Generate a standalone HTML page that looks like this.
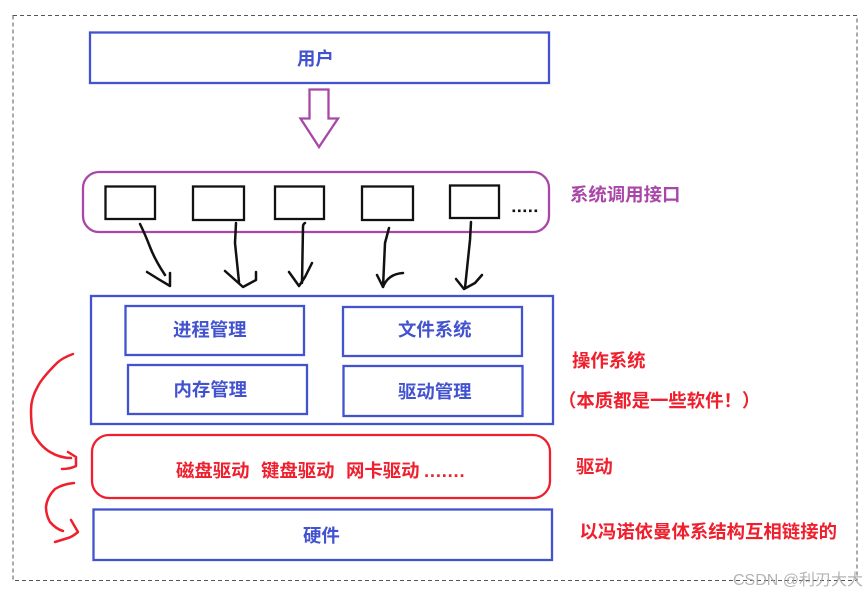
<!DOCTYPE html>
<html><head><meta charset="utf-8">
<style>
html,body{margin:0;padding:0;background:#fff;width:867px;height:594px;overflow:hidden}
svg{display:block;filter:blur(.35px)}
text{font-family:"Liberation Sans","Noto Sans CJK SC",sans-serif;font-weight:700;font-size:18.4px}
.b{fill:#4353cf}.r{fill:#f01f2d}.p{fill:#a847a8}
</style></head><body>
<svg width="867" height="594" viewBox="0 0 867 594" xmlns="http://www.w3.org/2000/svg">
<rect width="867" height="594" fill="#fff"/>
<rect x="13" y="15.5" width="844" height="565" fill="none" stroke="#555" stroke-width="1" stroke-dasharray="4 3"/>

<g fill="none" stroke="#4353cf" stroke-width="2.3">
<rect x="90" y="32.5" width="459" height="50.5"/>
<rect x="91" y="296" width="462" height="128"/>
<rect x="125.5" y="306" width="178.5" height="49"/>
<rect x="343" y="307" width="179" height="49"/>
<rect x="128" y="365" width="179" height="49"/>
<rect x="343.5" y="366" width="179" height="50"/>
<rect x="93.5" y="509.5" width="458.5" height="50.5"/>
</g>
<path d="M309.5 89.5H328.5V118.5H338L319 147L300.5 118.5H309.5Z" fill="none" stroke="#a847a8" stroke-width="2.3"/>
<rect x="83" y="172" width="466" height="60" rx="16" fill="none" stroke="#a847a8" stroke-width="2.3"/>
<rect x="92" y="435" width="458" height="63" rx="17" fill="none" stroke="#f01f2d" stroke-width="2.3"/>

<g fill="none" stroke="#111" stroke-width="2.3">
<rect x="105.500" y="186.500" width="49.500" height="32.500"/>
<rect x="193" y="186.500" width="51" height="33.500"/>
<rect x="275" y="186.500" width="49" height="32.500"/>
<rect x="362" y="186.500" width="51" height="33.500"/>
<rect x="450" y="185.500" width="49" height="32.500"/>
</g>
<g fill="#111">
<rect x="512.500" y="209.500" width="2.600" height="2.600"/><rect x="518" y="209.500" width="2.600" height="2.600"/><rect x="523.500" y="209.500" width="2.600" height="2.600"/><rect x="529" y="209.500" width="2.600" height="2.600"/><rect x="534.500" y="209.500" width="2.600" height="2.600"/>
</g>

<g fill="none" stroke="#111" stroke-width="2.500" stroke-linecap="round" stroke-linejoin="round">
<path d="M140 224Q145 234 150 247T165 275"/><path d="M147 272Q158 279 170 286L170 273"/>
<path d="M236 223L235 243L239 282"/><path d="M225 271L243 287L256 280V272"/>
<path d="M305 223Q303 224 303 227L302 283"/><path d="M289 272L299 286L305 277L312 263"/>
<path d="M389 228L385 243L383 287"/><path d="M377 275L383 287Q388 274 403 273"/>
<path d="M471 222L470 240L465 288"/><path d="M456 279L464 289L475 283L482 275"/>
</g>

<g fill="none" stroke="#f01f2d" stroke-width="2.500" stroke-linecap="round" stroke-linejoin="round">
<path d="M73 354Q62 358 57 363Q42 378 38 386Q31 398 31 410Q31 424 33 433Q40 446 50 452Q60 458 71 458"/>
<path d="M68 452L76 457V466Q70 469 62 469"/>
<path d="M74 483Q63 484 55 489Q47 497 46 507Q46 515 50 522Q56 529 63 531"/>
<path d="M71 520L78 532Q72 537 68 538L55 542"/>
</g>

<text class="b" x="297" y="65">用户</text>
<text class="b" x="173" y="336">进程管理</text>
<text class="b" x="398" y="336">文件系统</text>
<text class="b" x="173.500" y="396">内存管理</text>
<text class="b" x="398" y="398">驱动管理</text>
<text class="b" x="303" y="542">硬件</text>
<text class="r" x="176" y="477">磁盘驱动</text>
<text class="r" x="261" y="477">键盘驱动</text>
<text class="r" x="346" y="477">网卡驱动</text>
<text class="r" x="424" y="477" letter-spacing=".8">.......</text>
<text class="p" x="570" y="201">系统调用接口</text>
<text class="r" x="572" y="367">操作系统</text>
<text class="r" x="558" y="407">（本质都是一些软件！）</text>
<text class="r" x="576" y="473">驱动</text>
<text class="r" x="579.500" y="538">以冯诺依曼体系结构互相链接的</text>
<text x="733" y="585" style="font-size:16px;font-weight:400;fill:#a8a8a8;opacity:.85">CSDN @利刃大大</text>
</svg>
</body></html>
